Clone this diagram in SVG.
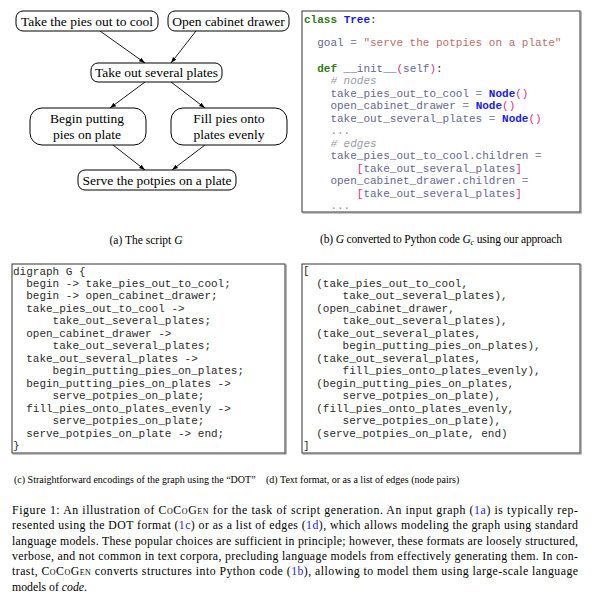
<svg xmlns="http://www.w3.org/2000/svg" width="592" height="594" viewBox="0 0 592 594">
<style>
.node rect{fill:#fff;stroke:#000;stroke-width:1}
.nt{font-family:"Liberation Serif",serif;font-size:13.5px;fill:#000;text-anchor:middle}
.edge{stroke:#000;stroke-width:0.9;fill:none;marker-end:url(#ah)}
.frame{fill:#fff;stroke:#333;stroke-width:1}
.shadow{stroke:#888;stroke-width:1.6;fill:none}
.code{font-family:"Liberation Mono","DejaVu Sans Mono",monospace;font-size:11px}
.plain{fill:#2a2a2a}
.id{fill:#66668f}
.kw{fill:#2f7a12;font-weight:bold}
.bl{fill:#1a1ae6;font-weight:bold}
.br{fill:#d12f8a}
.str{fill:#b86d6d}
.op{fill:#8a8a9a}
.cm{fill:#9a9aaa;font-style:italic}
.cap{font-family:"Liberation Serif",serif;font-size:11.5px;fill:#000}
.cap2{font-family:"Liberation Serif",serif;font-size:10px;fill:#000}
.par{font-family:"Liberation Serif",serif;font-size:11.8px;fill:#000}
.ref{fill:#2828c8}
.sc{font-variant:small-caps}
</style>
<defs>
<marker id="ah" viewBox="0 0 10 10" refX="10" refY="5" markerWidth="6" markerHeight="6" orient="auto" markerUnits="userSpaceOnUse">
<path d="M0,1.5 L10,5 L0,8.5 z" fill="#000"/>
</marker>
</defs>

<g id="connectors">
<line class="edge" x1="100" y1="31" x2="145" y2="63"/>
<line class="edge" x1="196" y1="31" x2="171" y2="63"/>
<line class="edge" x1="145" y1="82" x2="110" y2="108"/>
<line class="edge" x1="171" y1="82" x2="205" y2="108"/>
<line class="edge" x1="113" y1="145" x2="145" y2="170"/>
<line class="edge" x1="205" y1="145" x2="172" y2="170"/>
</g>

<g id="n_take_pies" class="node">
<rect x="16" y="11" width="142" height="20" rx="7"/>
<text class="nt" x="87" y="25.5">Take the pies out to cool</text>
</g>
<g id="n_open_cabinet" class="node">
<rect x="168" y="11" width="121" height="20" rx="7"/>
<text class="nt" x="228.5" y="25.5">Open cabinet drawer</text>
</g>
<g id="n_take_out" class="node">
<rect x="91" y="63" width="131" height="19" rx="7"/>
<text class="nt" x="156.5" y="77">Take out several plates</text>
</g>
<g id="n_begin" class="node">
<rect x="30" y="108" width="116" height="37" rx="12"/>
<text class="nt" x="87" y="122.5">Begin putting</text>
<text class="nt" x="87" y="139">pies on plate</text>
</g>
<g id="n_fill" class="node">
<rect x="171" y="108" width="116" height="37" rx="12"/>
<text class="nt" x="229" y="122.5">Fill pies onto</text>
<text class="nt" x="229" y="139">plates evenly</text>
</g>
<g id="n_serve" class="node">
<rect x="78" y="170" width="158" height="20" rx="7"/>
<text class="nt" x="157" y="184.5">Serve the potpies on a plate</text>
</g>

<g id="caption_a">
<text class="cap" x="146" y="244" text-anchor="middle">(a) The script <tspan font-style="italic">G</tspan></text>
</g>

<g id="code_b">
<rect class="frame" x="302" y="11" width="278" height="201"/>
<polyline class="shadow" points="580.8,11.5 580.8,212.8 302.5,212.8"/>
<text class="code" y="23" xml:space="preserve"><tspan x="304" class="kw">class</tspan><tspan class="plain"> </tspan><tspan class="bl">Tree</tspan><tspan class="plain">:</tspan></text>
<text class="code" y="46" xml:space="preserve"><tspan x="317.2" class="id">goal</tspan><tspan class="op"> = </tspan><tspan class="str">"serve the potpies on a plate"</tspan></text>
<text class="code" y="72" xml:space="preserve"><tspan x="317.2" class="kw">def</tspan><tspan class="id"> __init__</tspan><tspan class="br">(</tspan><tspan class="id">self</tspan><tspan class="br">)</tspan><tspan class="plain">:</tspan></text>
<text class="code cm" x="330.4" y="84"># nodes</text>
<text class="code" y="96.5" xml:space="preserve"><tspan x="330.4" class="id">take_pies_out_to_cool</tspan><tspan class="op"> = </tspan><tspan class="bl">Node</tspan><tspan class="br">()</tspan></text>
<text class="code" y="109" xml:space="preserve"><tspan x="330.4" class="id">open_cabinet_drawer</tspan><tspan class="op"> = </tspan><tspan class="bl">Node</tspan><tspan class="br">()</tspan></text>
<text class="code" y="121.5" xml:space="preserve"><tspan x="330.4" class="id">take_out_several_plates</tspan><tspan class="op"> = </tspan><tspan class="bl">Node</tspan><tspan class="br">()</tspan></text>
<text class="code op" x="330.4" y="134">...</text>
<text class="code cm" x="330.4" y="147"># edges</text>
<text class="code" y="159" xml:space="preserve"><tspan x="330.4" class="id">take_pies_out_to_cool.children</tspan><tspan class="op"> =</tspan></text>
<text class="code" y="171.5"><tspan x="356.8" class="br">[</tspan><tspan class="id">take_out_several_plates</tspan><tspan class="br">]</tspan></text>
<text class="code" y="184" xml:space="preserve"><tspan x="330.4" class="id">open_cabinet_drawer.children</tspan><tspan class="op"> =</tspan></text>
<text class="code" y="196.5"><tspan x="356.8" class="br">[</tspan><tspan class="id">take_out_several_plates</tspan><tspan class="br">]</tspan></text>
<text class="code op" x="330.4" y="209">...</text>
</g>

<g id="caption_b">
<text class="cap" x="320" y="243" textLength="242" lengthAdjust="spacing">(b) <tspan font-style="italic">G</tspan> converted to Python code <tspan font-style="italic">G</tspan><tspan font-style="italic" font-size="8px" dy="2">c</tspan><tspan dy="-2"> using our approach</tspan></text>
</g>

<g id="code_c">
<rect class="frame" x="12" y="264" width="273" height="189"/>
<polyline class="shadow" points="285.8,264.5 285.8,453.8 12.5,453.8"/>
<g class="code plain">
<text x="13" y="274.5">digraph G {</text>
<text x="26.2" y="287">begin -&gt; take_pies_out_to_cool;</text>
<text x="26.2" y="299.4">begin -&gt; open_cabinet_drawer;</text>
<text x="26.2" y="311.9">take_pies_out_to_cool -&gt;</text>
<text x="52.6" y="324.3">take_out_several_plates;</text>
<text x="26.2" y="336.8">open_cabinet_drawer -&gt;</text>
<text x="52.6" y="349.3">take_out_several_plates;</text>
<text x="26.2" y="361.7">take_out_several_plates -&gt;</text>
<text x="52.6" y="374.2">begin_putting_pies_on_plates;</text>
<text x="26.2" y="386.6">begin_putting_pies_on_plates -&gt;</text>
<text x="52.6" y="399.1">serve_potpies_on_plate;</text>
<text x="26.2" y="411.6">fill_pies_onto_plates_evenly -&gt;</text>
<text x="52.6" y="424">serve_potpies_on_plate;</text>
<text x="26.2" y="436.5">serve_potpies_on_plate -&gt; end;</text>
<text x="13" y="449">}</text>
</g>
</g>

<g id="code_d">
<rect class="frame" x="302" y="264" width="278" height="189"/>
<polyline class="shadow" points="580.8,264.5 580.8,453.8 302.5,453.8"/>
<g class="code plain">
<text x="303" y="274">[</text>
<text x="316.2" y="286.5">(take_pies_out_to_cool,</text>
<text x="342.6" y="299">take_out_several_plates),</text>
<text x="316.2" y="311.5">(open_cabinet_drawer,</text>
<text x="342.6" y="324">take_out_several_plates),</text>
<text x="316.2" y="336.5">(take_out_several_plates,</text>
<text x="342.6" y="349">begin_putting_pies_on_plates),</text>
<text x="316.2" y="361.5">(take_out_several_plates,</text>
<text x="342.6" y="374">fill_pies_onto_plates_evenly),</text>
<text x="316.2" y="386.5">(begin_putting_pies_on_plates,</text>
<text x="342.6" y="399">serve_potpies_on_plate),</text>
<text x="316.2" y="411.5">(fill_pies_onto_plates_evenly,</text>
<text x="342.6" y="424">serve_potpies_on_plate),</text>
<text x="316.2" y="436.5">(serve_potpies_on_plate, end)</text>
<text x="303" y="449">]</text>
</g>
</g>

<g id="captions_cd">
<text class="cap2" x="14" y="483">(c) Straightforward encodings of the graph using the “DOT”</text>
<text class="cap2" x="266" y="483">(d) Text format, or as a list of edges (node pairs)</text>
</g>

<g id="figure_caption">
<text class="par" x="12" y="514" textLength="566" lengthAdjust="spacing">Figure 1: An illustration of <tspan class="sc">CoCoGen</tspan> for the task of script generation.  An input graph (<tspan class="ref">1a</tspan>) is typically rep-</text>
<text class="par" x="12" y="529.3" textLength="566" lengthAdjust="spacing">resented using the DOT format (<tspan class="ref">1c</tspan>) or as a list of edges (<tspan class="ref">1d</tspan>), which allows modeling the graph using standard</text>
<text class="par" x="12" y="544.6" textLength="566" lengthAdjust="spacing">language models. These popular choices are sufficient in principle; however, these formats are loosely structured,</text>
<text class="par" x="12" y="559.9" textLength="566" lengthAdjust="spacing">verbose, and not common in text corpora, precluding language models from effectively generating them. In con-</text>
<text class="par" x="12" y="575.2" textLength="566" lengthAdjust="spacing">trast, <tspan class="sc">CoCoGen</tspan> converts structures into Python code (<tspan class="ref">1b</tspan>), allowing to model them using large-scale language</text>
<text class="par" x="12" y="590.5">models of <tspan font-style="italic">code</tspan>.</text>
</g>
</svg>
